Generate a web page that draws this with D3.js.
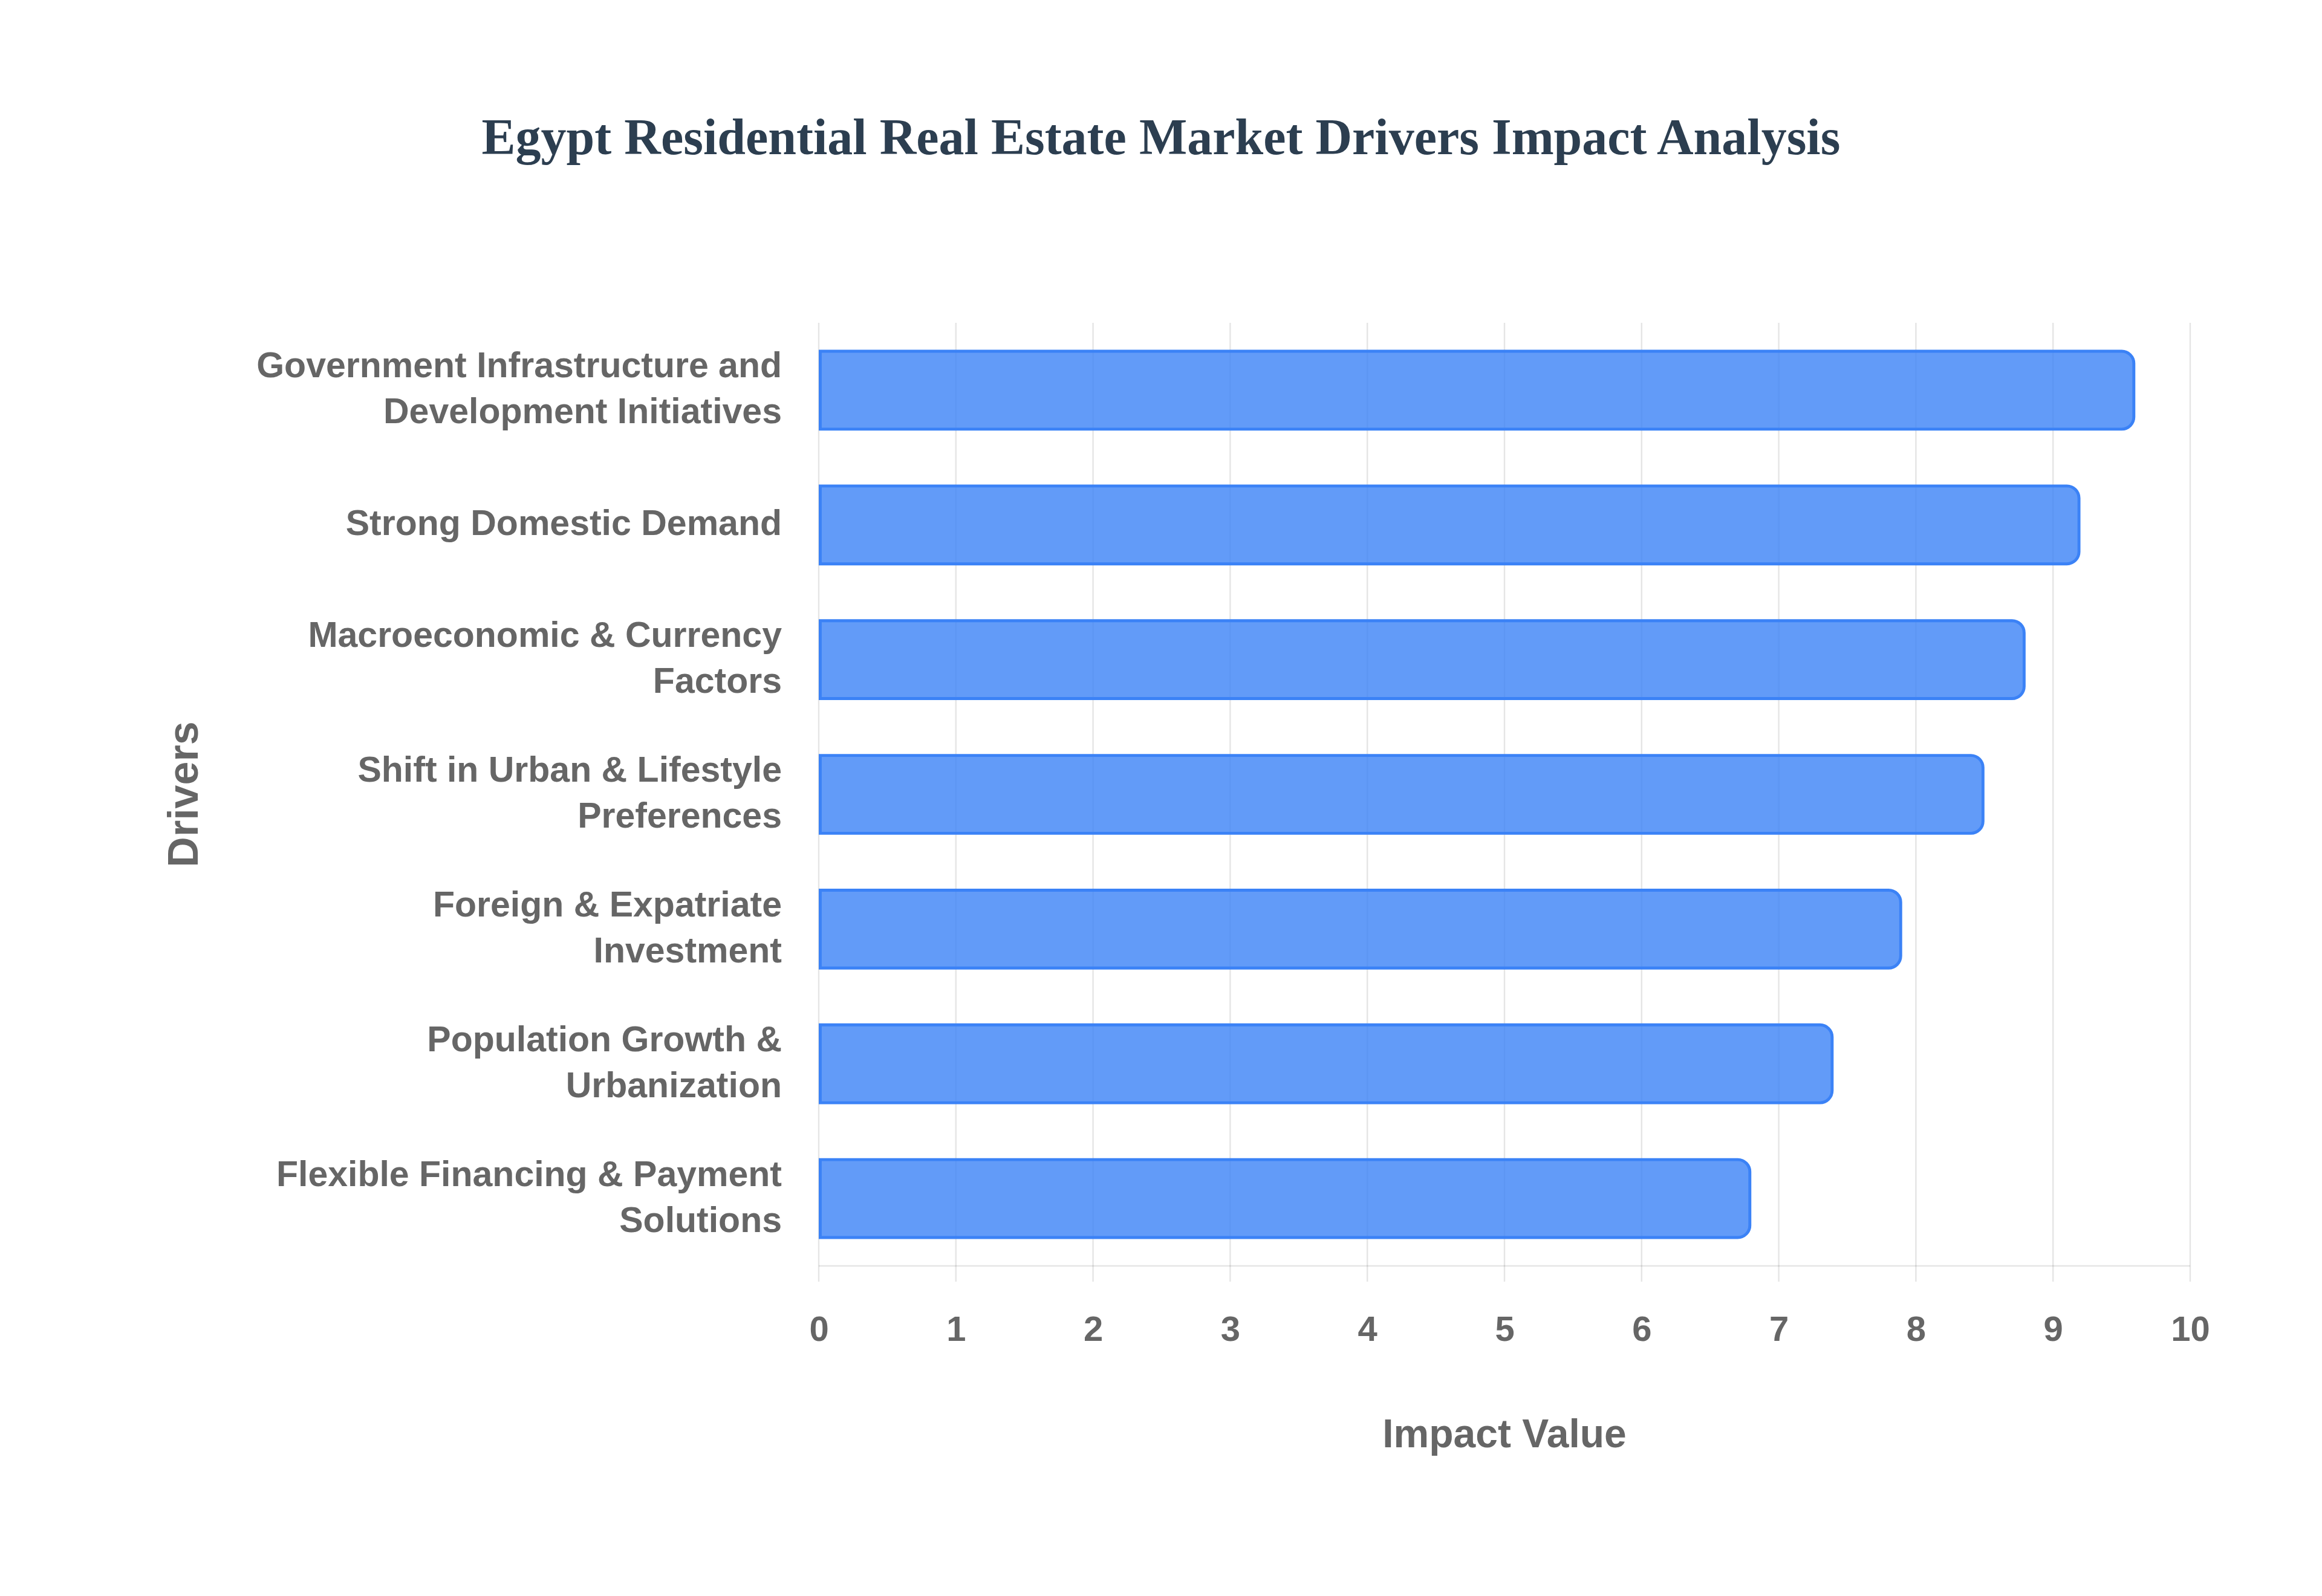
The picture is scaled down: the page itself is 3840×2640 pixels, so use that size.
<!DOCTYPE html>
<html>
<head>
<meta charset="utf-8">
<script src="https://cdn.jsdelivr.net/npm/d3@7"></script>
<style>
  html, body { margin: 0; padding: 0; background: #ffffff; }
  svg { display: block; }
</style>
</head>
<body>
<svg id="chart"></svg>
<script>
// chart data
var drivers = [
    "Government Infrastructure and Development Initiatives",
    "Strong Domestic Demand",
    "Macroeconomic & Currency Factors",
    "Shift in Urban & Lifestyle Preferences",
    "Foreign & Expatriate Investment",
    "Population Growth & Urbanization",
    "Flexible Financing & Payment Solutions"
];
var impactValues = [9.6, 9.2, 8.8, 8.5, 7.9, 7.4, 6.8];
var xTicks = [0, 1, 2, 3, 4, 5, 6, 7, 8, 9, 10];

var chartTitle = "Egypt Residential Real Estate Market Drivers Impact Analysis";
var xTitle = "Impact Value", yTitle = "Drivers";

var svgWidth = 3840, svgHeight = 2640;
var plotLeft = 1354, plotRight = 3622, plotTop = 534, plotBottom = 2094; // plot area
var tickLen = 26, radius = 20, borderW = 4.9;

var svg = d3.select("#chart")
    .attr("width", svgWidth)
    .attr("height", svgHeight);

var xScale = d3.scaleLinear()
    .domain([0, 10])
    .range([plotLeft, plotRight]);

var yScale = d3.scaleBand()
    .domain(drivers)
    .range([plotTop, plotBottom])
    .paddingInner(0.4)
    .paddingOuter(0.2);

// wrap labels at about 30 characters, word by word
function wrap(label, maxChars) {
    var words = label.split(" "), lines = [], line = "";
    words.forEach(function (w) {
        var test = line ? line + " " + w : w;
        if (test.length > maxChars && line) {
            lines.push(line);
            line = w;
        } else {
            line = test;
        }
    });
    lines.push(line);
    return lines;
}

// title
svg.append("text")
    .attr("x", svgWidth / 2)
    .attr("y", 255)
    .attr("text-anchor", "middle")
    .attr("font-family", "'Liberation Serif', 'Times New Roman', serif")
    .attr("font-weight", "bold")
    .attr("font-size", 84)
    .attr("fill", "#2c3e50")
    .text(chartTitle);

// vertical grid lines (they run past the axis as tick marks)
svg.append("g")
    .selectAll("line")
    .data(xTicks)
    .enter()
    .append("line")
    .attr("x1", function (d) { return xScale(d); })
    .attr("x2", function (d) { return xScale(d); })
    .attr("y1", plotTop)
    .attr("y2", plotBottom + tickLen)
    .attr("stroke", "rgba(0,0,0,0.1)")
    .attr("stroke-width", 2.45);

// bottom axis border
svg.append("line")
    .attr("x1", plotLeft)
    .attr("x2", plotRight)
    .attr("y1", plotBottom)
    .attr("y2", plotBottom)
    .attr("stroke", "rgba(0,0,0,0.1)")
    .attr("stroke-width", 2.45);

// x tick labels
var xAxis = d3.axisBottom(xScale)
    .tickValues(xTicks)
    .tickSize(0)
    .tickPadding(0)
    .tickFormat(d3.format("d"));

var gx = svg.append("g")
    .attr("transform", "translate(0," + plotBottom + ")")
    .call(xAxis);
gx.select(".domain").remove();
gx.selectAll("text")
    .attr("y", 124)
    .attr("dy", 0)
    .attr("font-family", "'Liberation Sans', Arial, sans-serif")
    .attr("font-weight", "bold")
    .attr("font-size", 58)
    .attr("fill", "#666666");

// bars: square left end, rounded right end, border drawn inside
function barPath(d) {
    var x0 = xScale(0) + borderW / 2;
    var x1 = xScale(d.value) - borderW / 2;
    var y0 = yScale(d.name) + borderW / 2;
    var y1 = yScale(d.name) + yScale.bandwidth() - borderW / 2;
    var r = Math.min(radius, (y1 - y0) / 2, x1 - x0);
    return "M" + x0 + "," + y0 +
        "H" + (x1 - r) +
        "A" + r + "," + r + " 0 0 1 " + x1 + "," + (y0 + r) +
        "V" + (y1 - r) +
        "A" + r + "," + r + " 0 0 1 " + (x1 - r) + "," + y1 +
        "H" + x0 + "Z";
}

var barData = drivers.map(function (d, i) {
    return { name: d, value: impactValues[i] };
});

svg.append("g")
    .selectAll("path")
    .data(barData)
    .enter()
    .append("path")
    .attr("d", barPath)
    .attr("fill", "rgba(59,130,246,0.8)")
    .attr("stroke", "#3b82f6")
    .attr("stroke-width", borderW);

// y category labels
var lineH = 76;
var yLabels = svg.append("g")
    .selectAll("text")
    .data(drivers)
    .enter()
    .append("text")
    .attr("text-anchor", "end")
    .attr("font-family", "'Liberation Sans', Arial, sans-serif")
    .attr("font-weight", "bold")
    .attr("font-size", 59)
    .attr("fill", "#666666");

yLabels.each(function (d) {
    var lines = wrap(d, 30);
    var cy = yScale(d) + yScale.bandwidth() / 2;
    var firstY = cy - (lines.length - 1) * lineH / 2 + 17;
    var t = d3.select(this);
    lines.forEach(function (l, i) {
        t.append("tspan")
            .attr("x", plotLeft - 61)
            .attr("y", firstY + i * lineH)
            .text(l);
    });
});

// axis titles
svg.append("text")
    .attr("x", (plotLeft + plotRight) / 2)
    .attr("y", 2394)
    .attr("text-anchor", "middle")
    .attr("font-family", "'Liberation Sans', Arial, sans-serif")
    .attr("font-weight", "bold")
    .attr("font-size", 66)
    .attr("fill", "#666666")
    .text(xTitle);

svg.append("text")
    .attr("transform", "translate(327," + (plotTop + plotBottom) / 2 + ") rotate(-90)")
    .attr("text-anchor", "middle")
    .attr("font-family", "'Liberation Sans', Arial, sans-serif")
    .attr("font-weight", "bold")
    .attr("font-size", 70)
    .attr("fill", "#666666")
    .text(yTitle);
</script>
</body>
</html>
